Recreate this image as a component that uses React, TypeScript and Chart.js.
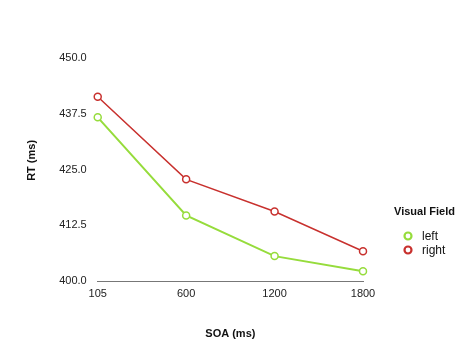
import React, { useEffect, useRef } from "react";
import { Chart, registerables } from "chart.js";

Chart.register(...registerables);

const categories = ["105", "600", "1200", "1800"];
const leftValues = [436.7, 414.7, 405.6, 402.2];
const rightValues = [441.3, 422.8, 415.6, 406.7];
const seriesNames = ["left", "right"];
const legendTitle = "Visual Field";
const xTitle = "SOA (ms)";
const yTitle = "RT (ms)";
const yMin = 400;
const yMax = 450;
const yStep = 12.5;

const GREEN = "#96dc3c";
const RED = "#c8312e";
const FONT = "'Liberation Sans', Arial, Helvetica, sans-serif";

const legendPlugin = {
  id: "sideLegend",
  afterDraw(chart: any) {
    const ctx = chart.ctx;
    const ca = chart.chartArea;
    const x0 = ca.right + 31;
    ctx.save();
    ctx.fillStyle = "#111";
    ctx.textBaseline = "middle";
    ctx.textAlign = "left";
    ctx.font = `bold 11px ${FONT}`;
    ctx.fillText(legendTitle, x0, 212);
    ctx.font = `12px ${FONT}`;
    chart.data.datasets.forEach((ds: any, i: number) => {
      const y = 236 + i * 14;
      ctx.beginPath();
      ctx.arc(x0 + 14, y, 3.5, 0, Math.PI * 2);
      ctx.fillStyle = "#fff";
      ctx.fill();
      ctx.lineWidth = 2.2;
      ctx.strokeStyle = ds.borderColor;
      ctx.stroke();
      ctx.fillStyle = "#111";
      ctx.fillText(ds.label, x0 + 28, y + 1);
    });
    ctx.restore();
  },
};

export default function App() {
  const ref = useRef<HTMLCanvasElement>(null);
  useEffect(() => {
    if (!ref.current) return;
    const chart = new Chart(ref.current, {
      type: "line",
      data: {
        labels: categories,
        datasets: [
          {
            label: seriesNames[0],
            data: leftValues,
            borderColor: GREEN,
            backgroundColor: "#fff",
            borderWidth: 2,
            pointRadius: 3.5,
            pointBorderWidth: 1.5,
            pointBackgroundColor: "#fff",
            pointBorderColor: GREEN,
            tension: 0,
          },
          {
            label: seriesNames[1],
            data: rightValues,
            borderColor: RED,
            backgroundColor: "#fff",
            borderWidth: 1.5,
            pointRadius: 3.5,
            pointBorderWidth: 1.5,
            pointBackgroundColor: "#fff",
            pointBorderColor: RED,
            tension: 0,
          },
        ],
      },
      options: {
        animation: false,
        responsive: false,
        maintainAspectRatio: false,
        layout: { padding: { top: 58, right: 111, bottom: 0, left: 0 } },
        plugins: {
          legend: { display: false },
          tooltip: { enabled: false },
        },
        scales: {
          x: {
            offset: false,
            grid: { display: false, drawTicks: false },
            border: { display: true, color: "#777", width: 1 },
            ticks: { color: "#222", padding: 6, font: { family: FONT, size: 11 } },
            title: {
              display: true,
              text: xTitle,
              color: "#111",
              font: { family: FONT, size: 11, weight: "bold" },
              padding: { top: 21.5, bottom: 14 },
            },
          },
          y: {
            min: yMin,
            max: yMax,
            grid: { display: false, drawTicks: false },
            border: { display: false },
            ticks: {
              stepSize: yStep,
              color: "#222",
              padding: 11,
              font: { family: FONT, size: 11 },
              callback: (v: any) => Number(v).toFixed(1),
            },
            title: {
              display: true,
              text: "      " + yTitle,
              color: "#111",
              font: { family: FONT, size: 11, weight: "bold" },
              padding: { top: 25, bottom: 10 },
            },
          },
        },
      },
      plugins: [legendPlugin],
    });
    return () => chart.destroy();
  }, []);
  return (
    <div style={{ position: "fixed", left: 0, top: 0, width: 474, height: 355, background: "#fff" }}>
      <canvas ref={ref} width={474} height={355} style={{ width: 474, height: 355 }} />
    </div>
  );
}
